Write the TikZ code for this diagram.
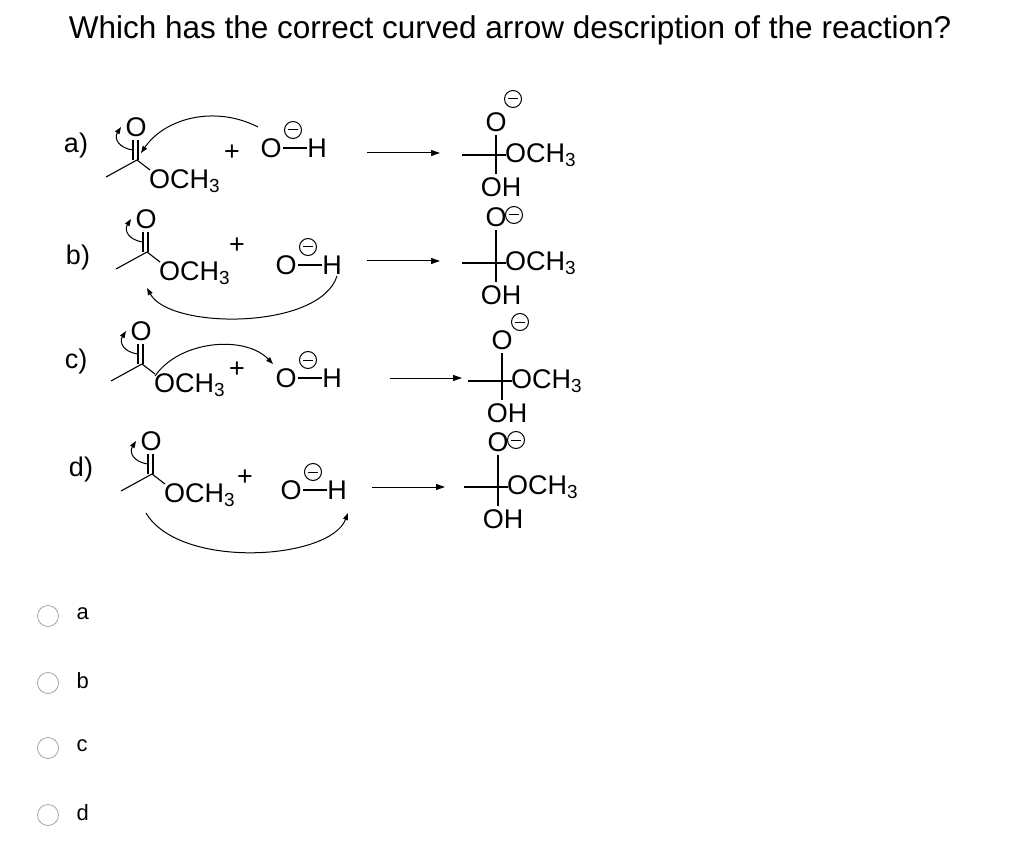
\documentclass[tikz,border=0pt]{standalone}
\usepackage{fontspec}
\setmainfont{Liberation Sans}
\usetikzlibrary{arrows.meta}
\tikzset{
  bond/.style={line width=1.1pt},
  chem/.style={inner sep=0pt,font=\fontsize{27}{29}\selectfont},
  curly/.style={line width=1pt,-{Triangle[length=7pt,width=5pt]}},
  rxnarrow/.style={line width=1pt,-{Triangle[length=9pt,width=6pt]}},
  radio/.style={circle,draw=gray!70,line width=0.8pt,minimum size=21pt,inner sep=0pt},
}
\newcommand\minuscharge[2]{\node[circle,draw,line width=1pt,minimum size=17pt,inner sep=0pt] (#1) at (#2) {};
  \draw[line width=1pt] ([xshift=-5pt]#1.center) -- ([xshift=5pt]#1.center);}
\newcommand\reactant[2]{\begin{scope}[shift={(#2)}]
  \draw[bond] (-31,17) -- (0,0) -- (13,10);
  \draw[bond] (-4,0) -- (-4,-20); \draw[bond] (1,0) -- (1,-20);
  \node[chem] (O#1) at (-1,-33) {O};
  \node[chem,anchor=west] (M#1) at (12,21) {OCH\textsubscript{3}};
  \coordinate (db#1) at (-4,-10);
  \end{scope}}
\newcommand\hydroxide[2]{\begin{scope}[shift={(#2)}]
  \node[chem] (HO#1) at (0,0) {O};
  \minuscharge{HM#1}{22,-18}
  \draw[bond] (12,0) -- (36,0);
  \node[chem] (H#1) at (46,0) {H};
  \end{scope}}
\newcommand\product[4]{\begin{scope}[shift={(#2)}]
  \draw[bond] (-34,0) -- (10,0);
  \draw[bond] (0,#3+13) -- (0,19);
  \node[chem] (PO#1) at (0,#3) {O};
  \minuscharge{PM#1}{#4}
  \node[chem,anchor=west] (PM3#1) at (9,0) {OCH\textsubscript{3}};
  \node[chem] (PH#1) at (5,32) {OH};
  \end{scope}}
\begin{document}
\begin{tikzpicture}[x=1pt,y=-1pt]
\useasboundingbox (0,0) rectangle (1022,850);
\node[font=\fontsize{31.5}{34}\selectfont] (title) at (510,30) {Which has the correct curved arrow description of the reaction?};
% row a
\node[chem] (la) at (76,146) {a)};
\reactant{a}{137,160}
\node[chem] (pa) at (232,153) {+};
\hydroxide{a}{271,148}
\draw[rxnarrow] (367,153) coordinate (as) -- (440,153) coordinate (ae);
\product{a}{496,155}{-33}{17,-56}
\draw[curly] (258,127) .. controls (215,105) and (165,118) .. (141,153);
\draw[curly] (dba) .. controls (118,148) and (114,138) .. (121,127);
% row b
\node[chem] (lb) at (78,258) {b)};
\reactant{b}{147,252}
\node[chem] (pb) at (237,246) {+};
\hydroxide{b}{286,265}
\draw[rxnarrow] (367,261) -- (440,261);
\product{b}{496,263}{-46}{18,-48}
\draw[curly] (337,276) .. controls (320,330) and (170,330) .. (147,288);
\draw[curly] (dbb) .. controls (128,240) and (124,230) .. (131,219);
% row c
\node[chem] (lc) at (76,362) {c)};
\reactant{c}{142,364}
\node[chem] (pc) at (237,370) {+};
\hydroxide{c}{286,378}
\draw[rxnarrow] (390,378) -- (462,378);
\product{c}{502,381}{-41}{18,-59}
\draw[curly] (155,376) .. controls (180,340) and (245,335) .. (273,364);
\draw[curly] (dbc) .. controls (123,352) and (119,342) .. (126,331);
% row d
\node[chem] (ld) at (81,470) {d)};
\reactant{d}{152,474}
\node[chem] (pd) at (245,478) {+};
\hydroxide{d}{291,490}
\draw[rxnarrow] (372,487) -- (445,487);
\product{d}{498,487}{-45}{18,-47}
\draw[curly] (146,513) .. controls (180,570) and (330,560) .. (348,513);
\draw[curly] (dbd) .. controls (133,462) and (129,452) .. (136,441);
% options
\foreach \y/\t [count=\i] in {616/a,683/b,748/c,815/d}{
  \node[radio] (r\i) at (48,\y) {};
  \node[font=\fontsize{22}{24}\selectfont,anchor=west] (o\i) at (73,\y-2) {\t};
}
\end{tikzpicture}
\end{document}
